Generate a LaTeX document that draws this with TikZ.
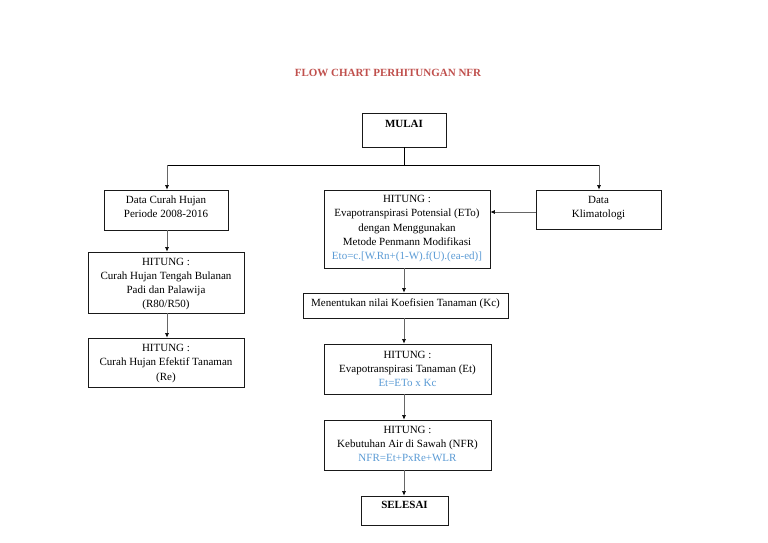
\documentclass[tikz,border=0pt]{standalone}
\usepackage{fontspec}
\setmainfont{Liberation Serif}
\usetikzlibrary{arrows.meta}
\definecolor{fblue}{RGB}{91,155,213}
\definecolor{ftitle}{RGB}{192,80,77}
\begin{document}
\begin{tikzpicture}[x=1pt,y=-1pt,
  box/.style={draw=black!90, line width=0.9pt, inner sep=0pt},
  txt/.style={align=center, inner sep=0pt, anchor=north, font=\fontsize{11}{14.2}\selectfont},
  conn/.style={draw=black!60, line width=0.6pt},
  hline/.style={draw=black, line width=0.8pt},
  arr/.style={conn, -{Latex[length=4.5pt,width=4pt,color=black]}}]
\useasboundingbox[fill=white] (0,0) rectangle (768,543);

% title
\node[font=\fontsize{11}{13}\bfseries, text=ftitle] (title) at (388,73) {FLOW CHART PERHITUNGAN NFR};

% boxes
\node[box, minimum width=84pt, minimum height=34pt] (mulai) at (404,130) {};
\node[txt, font=\fontsize{11}{14.2}\bfseries] (mulai-t) at (404,117) {\strut MULAI};

\node[box, minimum width=124pt, minimum height=40pt] (dch) at (166,210) {};
\node[txt] (dch-t) at (166,193) {\strut Data Curah Hujan\\Periode 2008-2016};

\node[box, minimum width=166pt, minimum height=78pt] (eto) at (407,229) {};
\node[txt] (eto-t) at (407,192.5) {\strut HITUNG :\\Evapotranspirasi Potensial (ETo)\\dengan Menggunakan\\Metode Penmann Modifikasi\\\textcolor{fblue}{Eto=c.[W.Rn+(1-W).f(U).(ea-ed)]}};

\node[box, minimum width=125pt, minimum height=39pt] (klim) at (598.5,209.5) {};
\node[txt] (klim-t) at (598.5,193.5) {\strut Data\\Klimatologi};

\node[box, minimum width=156pt, minimum height=61pt] (cht) at (166,282.5) {};
\node[txt] (cht-t) at (166,255) {\strut HITUNG :\\Curah Hujan Tengah Bulanan\\Padi dan Palawija\\(R80/R50)};

\node[box, minimum width=156pt, minimum height=49pt] (che) at (166,362.5) {};
\node[txt] (che-t) at (166,341.5) {\strut HITUNG :\\Curah Hujan Efektif Tanaman\\(Re)};

\node[box, minimum width=205pt, minimum height=25pt] (kc) at (405.5,305.5) {};
\node[txt] (kc-t) at (405.5,296.5) {\strut Menentukan nilai Koefisien Tanaman (Kc)};

\node[box, minimum width=167pt, minimum height=50pt] (et) at (407.5,369) {};
\node[txt] (et-t) at (407.5,348) {\strut HITUNG :\\Evapotranspirasi Tanaman (Et)\\\textcolor{fblue}{Et=ETo x Kc}};

\node[box, minimum width=167pt, minimum height=50pt] (nfr) at (407.5,445) {};
\node[txt] (nfr-t) at (407.5,423) {\strut HITUNG :\\Kebutuhan Air di Sawah (NFR)\\\textcolor{fblue}{NFR=Et+PxRe+WLR}};

\node[box, minimum width=87pt, minimum height=29pt] (sel) at (404.5,510.5) {};
\node[txt, font=\fontsize{11}{14.2}\bfseries] (sel-t) at (404.5,498.5) {\strut SELESAI};

% connectors
\coordinate (jl) at (167,165);
\coordinate (jr) at (599,165);
\coordinate (jm) at (404,165);
\coordinate (ka) at (0,212);
\draw[hline] (mulai.south -| jm) -- (jm);
\draw[hline] (jl) -- (jr);
\draw[arr] (jl) -- (dch.north -| jl);
\draw[arr] (jr) -- (klim.north -| jr);
\draw[arr] (klim.west |- ka) -- (eto.east |- ka);
\draw[arr] (dch.south -| jl) -- (cht.north -| jl);
\draw[arr] (cht.south -| jl) -- (che.north -| jl);
\draw[arr] (eto.south -| jm) -- (kc.north -| jm);
\draw[arr] (kc.south -| jm) -- (et.north -| jm);
\draw[arr] (et.south -| jm) -- (nfr.north -| jm);
\draw[arr] (nfr.south -| jm) -- (sel.north -| jm);
\end{tikzpicture}
\end{document}
